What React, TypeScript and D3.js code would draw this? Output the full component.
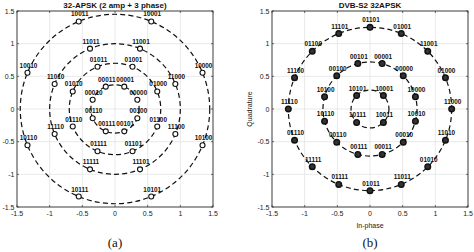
import React from "react";
import * as d3 from "d3";

const ticks = [-1.5, -1, -0.5, 0, 0.5, 1, 1.5];
const tickLabels = ["-1.5", "-1", "-0.5", "0", "0.5", "1", "1.5"];

// Plot (a): 32-APSK 4 rings x 8 phases
const ringsA = [0.37, 0.7, 1.0, 1.45];
const anglesA = [22.5, 67.5, 112.5, 157.5, 202.5, 247.5, 292.5, 337.5];
const labelsA = [
  ["00000", "00001", "00011", "00010", "00110", "00111", "00101", "00100"],
  ["01000", "01001", "01011", "01010", "01110", "01111", "01101", "01100"],
  ["11000", "11001", "11011", "11010", "11110", "11111", "11101", "11100"],
  ["10000", "10001", "10011", "10010", "10110", "10111", "10101", "10100"],
];

// Plot (b): DVB-S2 32APSK 4+12+16
const ringsB = [0.29, 0.72, 1.25];
const anglesB0 = [45, 135, 225, 315];
const labelsB0 = ["10001", "10101", "10111", "10011"];
const anglesB1 = [15, 45, 75, 105, 135, 165, 195, 225, 255, 285, 315, 345];
const labelsB1 = ["10000", "00000", "00001", "00101", "00100", "10100", "10110", "00110", "00111", "00011", "00010", "10010"];
const anglesB2 = [0, 22.5, 45, 67.5, 90, 112.5, 135, 157.5, 180, 202.5, 225, 247.5, 270, 292.5, 315, 337.5];
const labelsB2 = ["11000", "01000", "11001", "01001", "01101", "11101", "01100", "11100", "11110", "01110", "11111", "01111", "01011", "11011", "01010", "11010"];

type Pt = { x: number; y: number; label: string };

function ringPoints(r: number, angles: number[], labels: string[]): Pt[] {
  return angles.map((a, i) => ({
    x: r * Math.cos((a * Math.PI) / 180),
    y: r * Math.sin((a * Math.PI) / 180),
    label: labels[i],
  }));
}

const FONT = "Liberation Sans, Arial, sans-serif";

function Panel(props: {
  x0: number; x1: number; y0: number; y1: number;
  title: string; rings: number[]; points: Pt[]; filled: boolean;
  xlabel?: string; ylabel?: string; caption: string;
}) {
  const { x0, x1, y0, y1, title, rings, points, filled, xlabel, ylabel, caption } = props;
  const xs = d3.scaleLinear().domain([-1.5, 1.5]).range([x0, x1]);
  const ys = d3.scaleLinear().domain([-1.5, 1.5]).range([y1, y0]);
  const cx = xs(0), cy = ys(0);
  const k = xs(1) - xs(0);
  return (
    <g>
      {ticks.map((t, i) => (
        <g key={"g" + i}>
          <line x1={xs(t)} x2={xs(t)} y1={y0} y2={y1} stroke="#e3e3e3" strokeWidth={0.8} />
          <line x1={x0} x2={x1} y1={ys(t)} y2={ys(t)} stroke="#e3e3e3" strokeWidth={0.8} />
        </g>
      ))}
      {rings.map((r, i) => (
        <circle key={"r" + i} cx={cx} cy={cy} r={r * k} fill="none" stroke="#111" strokeWidth={1.2} strokeDasharray="5,3.2" />
      ))}
      {points.map((p, i) => (
        <circle key={"p" + i} cx={xs(p.x)} cy={ys(p.y)} r={filled ? 2.8 : 2.5}
          fill={filled ? "#333" : "#fff"} stroke="#111" strokeWidth={filled ? 1.4 : 1.1} />
      ))}
      {points.map((p, i) => (
        <text key={"t" + i} x={xs(p.x) + 1} y={ys(p.y) - 5} fontSize={6.4} fontWeight="bold"
          fontFamily={FONT} textAnchor="middle" fill="#111">{p.label}</text>
      ))}
      <rect x={x0} y={y0} width={x1 - x0} height={y1 - y0} fill="none" stroke="#333" strokeWidth={0.9} />
      {ticks.map((t, i) => (
        <g key={"tk" + i}>
          <line x1={xs(t)} x2={xs(t)} y1={y1} y2={y1 - 2} stroke="#333" strokeWidth={0.7} />
          <line x1={xs(t)} x2={xs(t)} y1={y0} y2={y0 + 2} stroke="#333" strokeWidth={0.7} />
          <line x1={x0} x2={x0 + 2} y1={ys(t)} y2={ys(t)} stroke="#333" strokeWidth={0.7} />
          <line x1={x1} x2={x1 - 2} y1={ys(t)} y2={ys(t)} stroke="#333" strokeWidth={0.7} />
          <text x={xs(t)} y={y1 + 9} fontSize={7} fontFamily={FONT} textAnchor="middle" fill="#222">{tickLabels[i]}</text>
          <text x={x0 - 2.5} y={ys(t) + 2.5} fontSize={7} fontFamily={FONT} textAnchor="end" fill="#222">{tickLabels[i]}</text>
        </g>
      ))}
      <text x={(x0 + x1) / 2} y={y0 - 3} fontSize={8} fontWeight="bold" fontFamily={FONT} textAnchor="middle" fill="#111">{title}</text>
      {xlabel && (
        <text x={(x0 + x1) / 2} y={y1 + 21} fontSize={7} fontFamily={FONT} textAnchor="middle" fill="#222">{xlabel}</text>
      )}
      {ylabel && (
        <text transform={`translate(${x0 - 20},${(y0 + y1) / 2}) rotate(-90)`} fontSize={7} fontFamily={FONT} textAnchor="middle" fill="#222">{ylabel}</text>
      )}
      <text x={(x0 + x1) / 2} y={247} fontSize={13} fontFamily="Liberation Serif, Times New Roman, serif" textAnchor="middle" fill="#111">{caption}</text>
    </g>
  );
}

export default function App() {
  const ptsA: Pt[] = ringsA.flatMap((r, i) => ringPoints(r, anglesA, labelsA[i]));
  const ptsB: Pt[] = [
    ...ringPoints(ringsB[0], anglesB0, labelsB0),
    ...ringPoints(ringsB[1], anglesB1, labelsB1),
    ...ringPoints(ringsB[2], anglesB2, labelsB2),
  ];
  return (
    <svg width={474} height={252} style={{ position: "absolute", left: 0, top: 0, background: "#fff" }}>
      <rect width={474} height={252} fill="#fff" />
      <Panel x0={17} x1={213} y0={11} y1={207} title="32-APSK (2 amp + 3 phase)" rings={ringsA} points={ptsA} filled={false} caption="(a)" />
      <Panel x0={272} x1={468} y0={11} y1={207} title="DVB-S2 32APSK" rings={ringsB} points={ptsB} filled={true}
        xlabel="In-phase" ylabel="Quadrature" caption="(b)" />
    </svg>
  );
}
